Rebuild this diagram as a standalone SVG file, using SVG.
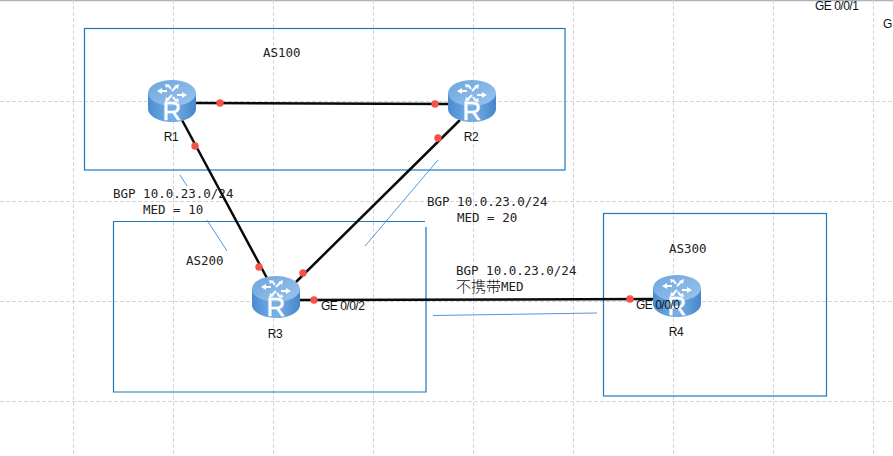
<svg xmlns="http://www.w3.org/2000/svg" width="893" height="456" viewBox="0 0 893 456">
<style>
.g{stroke:#d6d6d6;stroke-width:1;stroke-dasharray:4 2;fill:none}
.b{fill:none;stroke:#1f78b8;stroke-width:1.2}
.t{stroke:#4d9ae0;stroke-width:1;fill:none}
.c{stroke:#0a0a0a;stroke-width:2.5;fill:none}
.d{fill:#f4524a}
.m{font-family:"DejaVu Sans Mono","Liberation Mono",monospace;font-size:12.5px;fill:#222}
.s{font-family:"Liberation Sans",Arial,sans-serif;font-size:12px;letter-spacing:-0.5px;fill:#111}
.a{fill:none;stroke:#fff;stroke-width:2}
.h{fill:#fff}
.r{font-family:"Liberation Sans",Arial,sans-serif;font-size:26px;fill:#fff;stroke:#fff;stroke-width:0.5}
</style>
<defs>
<linearGradient id="side" x1="0" x2="1" y1="0" y2="0"><stop offset="0" stop-color="#4a8ccf"/><stop offset="0.5" stop-color="#78b0e6"/><stop offset="1" stop-color="#4587cb"/></linearGradient>
<linearGradient id="top" x1="0" x2="1" y1="0" y2="1"><stop offset="0" stop-color="#6ea6dd"/><stop offset="1" stop-color="#9ac4ee"/></linearGradient>
<symbol id="router" viewBox="0 0 48 42" width="48" height="42" overflow="visible">
<path d="M0 13V29C0 36 11 42 24 42S48 36 48 29V13Z" fill="url(#side)"/>
<ellipse cx="24" cy="13" rx="24" ry="13" fill="url(#top)"/>
<path class="a" d="M11 11H19M37 15H29M20 19L24 15M28 7L24 11M20 5L23 9M28 21L25 17"/>
<path class="h" d="M9 11L14 8V14ZM39 15L34 12V18ZM17 22L18 17L22 20ZM31 4L30 9L26 6ZM17 4L22 5L18 8ZM31 22L26 21L30 18Z"/>
<text class="r" x="24" y="40" text-anchor="middle">R</text>
</symbol>
</defs>
<rect width="893" height="456" fill="#fff"/>
<g id="grid">
<line x1="0" y1="0.5" x2="893" y2="0.5" stroke="#a8b4bc" stroke-width="1.5"/>
<path class="g" d="M73.5 0V456M173.5 0V456M273.5 0V456M373.5 0V456M473.5 0V456M573.5 0V456M673.5 0V456M773.5 0V456M873.5 0V456M0 101.5H893M0 201.5H893M0 301.5H893M0 401.5H893"/>
</g>
<g id="as100"><rect class="b" x="84.5" y="28.5" width="480.5" height="141.5"/><text class="m" x="263" y="57">AS100</text></g>
<g id="as200"><path class="b" d="M425 221.5H113.5V392H426V227"/><text class="m" x="186" y="265">AS200</text></g>
<g id="as300"><rect class="b" x="603.5" y="213.5" width="223" height="182.5"/><text class="m" x="669" y="253">AS300</text></g>
<g id="connectors">
<path class="c" d="M196 103L449 104M182 120L268 280M296 282L460 120M300 300L655 299"/>
<circle class="d" cx="220" cy="103" r="3.7"/><circle class="d" cx="195" cy="146" r="3.7"/>
<circle class="d" cx="435" cy="104" r="3.7"/><circle class="d" cx="438" cy="138" r="3.7"/>
<circle class="d" cx="259" cy="267" r="3.7"/><circle class="d" cx="303" cy="273" r="3.7"/>
<circle class="d" cx="314" cy="300" r="3.7"/><circle class="d" cx="630" cy="299" r="3.7"/>
</g>
<g id="callouts">
<path class="t" d="M180 175L187 186M207 220L227 251M438 160L365 246M433 315.5L597 313"/>
<text class="m" x="113" y="198">BGP 10.0.23.0/24</text><text class="m" x="143" y="214">MED = 10</text>
<text class="m" x="427" y="206">BGP 10.0.23.0/24</text><text class="m" x="457" y="222">MED = 20</text>
<text class="m" x="456" y="275">BGP 10.0.23.0/24</text>
<text x="456" y="292" style="font-family:'Noto Sans CJK SC','Liberation Sans',sans-serif;font-size:15px;font-weight:300;fill:#111">不携带</text><text class="m" x="501" y="291">MED</text>
</g>
<g id="R1"><use href="#router" x="148" y="80"/><text class="s" x="171" y="141" text-anchor="middle">R1</text></g>
<g id="R2"><use href="#router" x="448" y="80"/><text class="s" x="471" y="141" text-anchor="middle">R2</text></g>
<g id="R3"><use href="#router" x="252" y="276"/><text class="s" x="275" y="338" text-anchor="middle">R3</text></g>
<g id="R4"><use href="#router" x="653" y="275"/><text class="s" x="676" y="336" text-anchor="middle">R4</text></g>
<g id="ports">
<text class="s" x="321" y="310">GE 0/0/2</text>
<text class="s" x="636" y="309">GE 0/0/0</text>
<text class="s" x="815" y="10">GE 0/0/1</text>
<text class="s" x="883" y="28">G</text>
</g>
</svg>
